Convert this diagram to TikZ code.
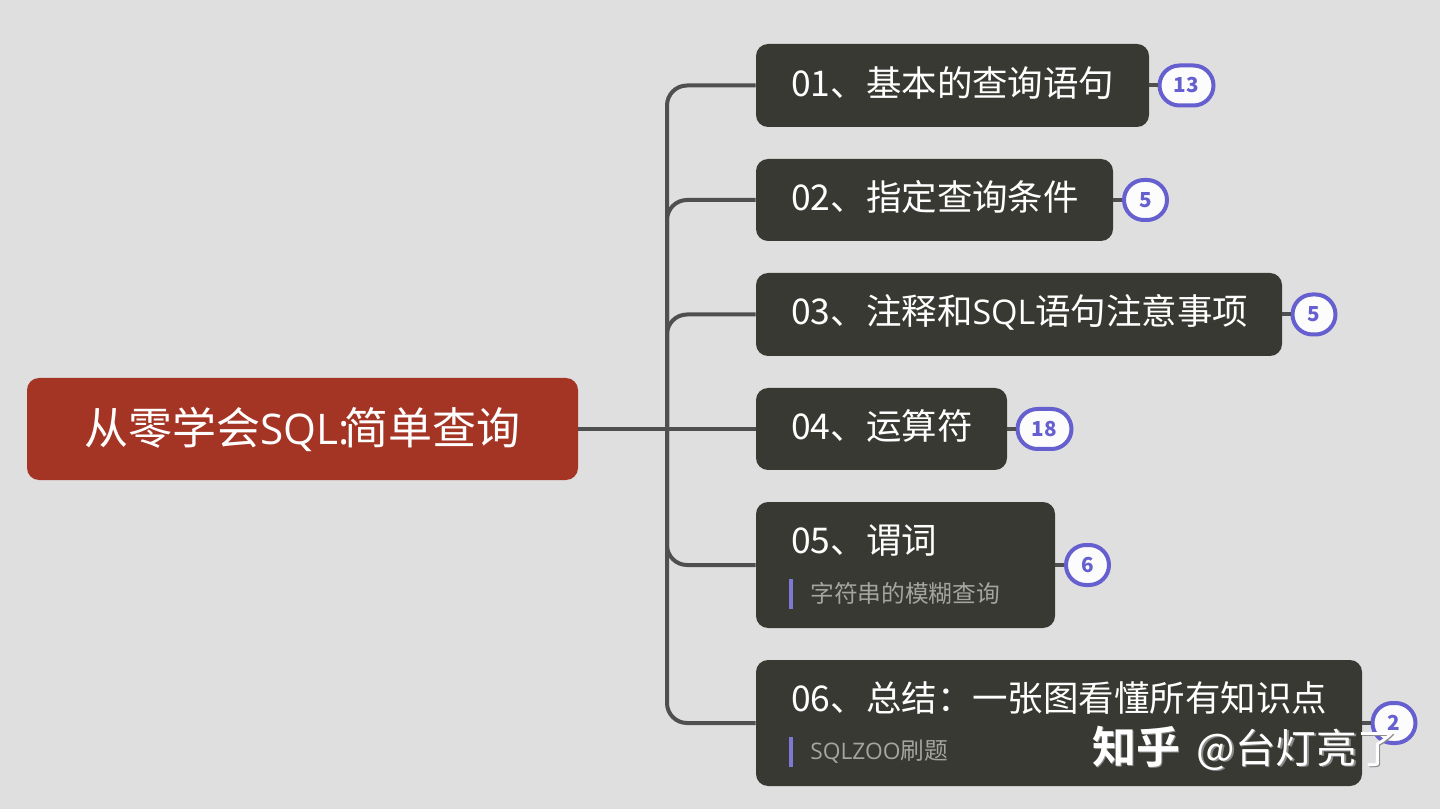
\documentclass[tikz,border=0pt]{standalone}
\usepackage{fontspec}
\setmainfont{Noto Sans CJK SC}
\newfontfamily\boldcjk{Noto Sans CJK SC Bold}
\newfontfamily\blackcjk{Noto Sans CJK SC Black}
\newfontfamily\latn[Scale=0.96]{Open Sans}
\definecolor{pagebg}{HTML}{DFDFDF}
\definecolor{boxfill}{HTML}{393933}
\definecolor{rootfill}{HTML}{A43423}
\definecolor{linecol}{HTML}{4F4F4F}
\definecolor{badgecol}{HTML}{665FCF}
\definecolor{barcol}{HTML}{7F78D6}
\definecolor{subcol}{HTML}{A4A4A0}
\definecolor{shadowcol}{HTML}{8A8A8A}
\tikzset{
  rootbox/.style={draw=none,fill=rootfill,rounded corners=9pt,text=white,inner sep=0pt,
    minimum width=413.25pt,minimum height=76.5pt,font=\fontsize{33pt}{33pt}\selectfont},
  topicbox/.style={draw=none,fill=boxfill,rounded corners=9pt,inner sep=0pt},
  titletext/.style={text=white,inner sep=0pt,anchor=west,font=\fontsize{26.6pt}{26.6pt}\selectfont},
  subtext/.style={text=subcol,inner sep=0pt,anchor=west,font=\fontsize{17.8pt}{17.8pt}\selectfont},
  subbar/.style={draw=none,fill=barcol,inner sep=0pt,minimum width=3pt,minimum height=22.5pt},
  badge/.style={draw=badgecol,line width=3pt,fill=white!92!pagebg,text=badgecol,inner sep=0pt,
    rounded corners=15pt,minimum height=30pt,font=\blackcjk\fontsize{15.5pt}{15.5pt}\selectfont},
  conn/.style={draw=linecol,line width=3pt},
  branch/.style={conn,rounded corners=15pt},
  mark text/.style={inner sep=0pt,anchor=base west}
}
\begin{document}
\begin{tikzpicture}[x=0.75pt,y=-0.75pt]
\useasboundingbox[fill=pagebg] (0,0) rectangle (1440,809);
\coordinate (j) at (667,429);
% root
\node[rootbox] (root) at (302.5,429) {\raisebox{2pt}{从零学会{\latn SQL:}\hspace{-3.75pt}简单查询}\hspace{2.25pt}};
% boxes
\node[topicbox,minimum width=294.75pt,minimum height=62.25pt] (n1) at (952.5,85.5) {};
\node[topicbox,minimum width=267.75pt,minimum height=61.5pt] (n2) at (934.5,200) {};
\node[topicbox,minimum width=394.5pt,minimum height=62.25pt] (n3) at (1019,314.5) {};
\node[topicbox,minimum width=188.25pt,minimum height=61.5pt] (n4) at (881.5,429) {};
\node[topicbox,minimum width=224.25pt,minimum height=94.5pt] (n5) at (905.5,565) {};
\node[topicbox,minimum width=454.5pt,minimum height=94.5pt] (n6) at (1059,723) {};
% titles
\node[titletext] (t1) at (791,83) {01、基本的查询语句};
\node[titletext] (t2) at (791,197) {02、指定查询条件};
\node[titletext] (t3) at (791,312) {03、注释和{\latn SQL}语句注意事项};
\node[titletext] (t4) at (791,426) {04、运算符};
\node[titletext] (t5) at (791,541) {05、谓词};
\node[titletext] (t6) at (791,698) {06、总结：一张图看懂所有知识点};
% notes
\node[subbar] (b5) at (791,594) {};
\node[subtext] (s5) at (810,594) {字符串的模糊查询};
\node[subbar] (b6) at (791,752) {};
\node[subtext] (s6) at (810,752) {{\latn SQLZOO}刷题};
% connectors
\draw[branch] (j) |- (n1.west);
\draw[branch] (j) |- (n2.west);
\draw[branch] (j) |- (n3.west);
\draw[branch] (j) |- (n5.west);
\draw[branch] (j) |- (n6.west);
\draw[conn] (root.east) -- (n4.west);
% badges
\node[badge,minimum width=54pt*0.75] (c1) at (1186.5,85.5) {13};
\node[badge,minimum width=43pt*0.75] (c2) at (1145.5,200) {5};
\node[badge,minimum width=43pt*0.75] (c3) at (1314,314.5) {5};
\node[badge,minimum width=54pt*0.75] (c4) at (1044.5,429) {18};
\node[badge,minimum width=43pt*0.75] (c5) at (1087.5,565) {6};
\node[badge,minimum width=43pt*0.75] (c6) at (1394,723) {2};
\draw[conn] (n1.east) -- (c1.west);
\draw[conn] (n2.east) -- (c2.west);
\draw[conn] (n3.east) -- (c3.west);
\draw[conn] (n4.east) -- (c4.west);
\draw[conn] (n5.east) -- (c5.west);
\draw[conn] (n6.east) -- (c6.west);
% watermark
\node[mark text,text=shadowcol] (w1s) at (1093.5,764.5) {\boldcjk\fontsize{33pt}{33pt}\selectfont 知乎};
\node[mark text,text=shadowcol] (w2s) at (1198,764.5) {\fontsize{30.5pt}{30.5pt}\selectfont @台灯亮了};
\node[mark text,text=white] (w1) at (1092,763) {\boldcjk\fontsize{33pt}{33pt}\selectfont 知乎};
\node[mark text,text=white] (w2) at (1196.5,763) {\fontsize{30.5pt}{30.5pt}\selectfont @台灯亮了};
\end{tikzpicture}
\end{document}
